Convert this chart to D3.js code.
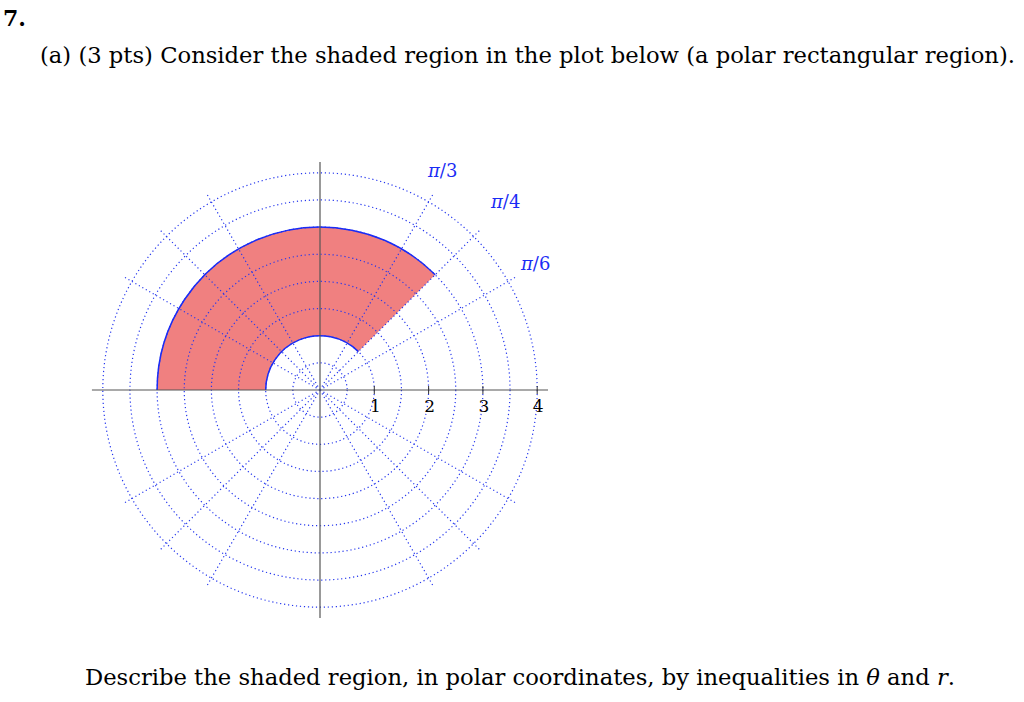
<!DOCTYPE html>
<html><head><meta charset="utf-8">
<script src="https://cdn.jsdelivr.net/npm/d3@7"></script>
<style>body{margin:0;background:#fff}svg{display:block}text{font-family:"DejaVu Serif","Liberation Serif",serif}</style>
</head><body><svg width="1024" height="702"></svg>
<script>
const circleRadii=[0.5,1,1.5,2,2.5,3,3.5,4];
const rayAngles=[Math.PI/6,Math.PI/4,Math.PI/3];
const angleLabels=["6","4","3"];
const xTicks=[1,2,3,4];
const region={r0:1,r1:3,t0:Math.PI/4,t1:Math.PI};
const svg=d3.select("svg");
const cx=320,cy=390;
const s=d3.scaleLinear().domain([0,1]).range([0,54.3]);
const g=svg.append("g").attr("transform",`translate(${cx},${cy})`);
const P=(r,t)=>[s(r)*Math.cos(t),-s(r)*Math.sin(t)];
const blue="#2436ee";
const arc=d3.arc().innerRadius(s(region.r0)).outerRadius(s(region.r1))
 .startAngle(Math.PI/2-region.t0).endAngle(Math.PI/2-region.t1);
g.append("path").attr("d",arc()).attr("fill","#f08080");
g.selectAll("circle.grid").data(circleRadii).join("circle").attr("r",d=>s(d))
 .attr("fill","none").attr("stroke",blue).attr("stroke-width",1.2).attr("stroke-dasharray","1.2 2.8");
const allRays=[];rayAngles.forEach(a=>{[a,Math.PI-a,Math.PI+a,-a].forEach(t=>allRays.push(t));});
g.selectAll("line.ray").data(allRays).join("line")
 .attr("x1",0).attr("y1",0).attr("x2",d=>P(4.2,d)[0]).attr("y2",d=>P(4.2,d)[1])
 .attr("stroke",blue).attr("stroke-width",1.2).attr("stroke-dasharray","1.2 2.8");
[region.r0,region.r1].forEach(r=>{
 const a=d3.arc().innerRadius(s(r)).outerRadius(s(r)).startAngle(Math.PI/2-region.t0).endAngle(Math.PI/2-region.t1);
 g.append("path").attr("d",a()).attr("fill","none").attr("stroke","#1a2cf5").attr("stroke-width",1.5);
});
g.append("line").attr("x1",s(-4.2)).attr("x2",s(4.2)).attr("y1",0).attr("y2",0).attr("stroke","#555").attr("stroke-width",1.2);
g.append("line").attr("y1",s(-4.2)).attr("y2",s(4.2)).attr("x1",0).attr("x2",0).attr("stroke","#555").attr("stroke-width",1.2);
g.selectAll("line.tick").data(xTicks).join("line").attr("x1",d=>s(d)).attr("x2",d=>s(d)).attr("y1",-4).attr("y2",4).attr("stroke","#333");
g.selectAll("text.tick").data(xTicks).join("text").attr("x",d=>s(d)+1).attr("y",22).attr("text-anchor","middle")
 .attr("font-size",17).text(d=>d);
const labPos=[[201,-120],[171,-182],[108,-213]];
g.selectAll("text.ang").data(angleLabels).join("text").attr("x",(d,i)=>labPos[i][0]).attr("y",(d,i)=>labPos[i][1])
 .attr("font-size",18).attr("fill","#1a2cf5")
 .html(d=>`<tspan font-style="italic">π</tspan>/${d}`);
svg.append("text").attr("x",3).attr("y",26).attr("font-size",22).attr("font-weight","bold").text("7.");
svg.append("text").attr("x",40).attr("y",63).attr("font-size",22).attr("textLength",975).attr("lengthAdjust","spacingAndGlyphs")
 .text("(a) (3 pts) Consider the shaded region in the plot below (a polar rectangular region).");
svg.append("text").attr("x",85).attr("y",685).attr("font-size",22).attr("textLength",870).attr("lengthAdjust","spacingAndGlyphs")
 .html('Describe the shaded region, in polar coordinates, by inequalities in <tspan font-style="italic">θ</tspan> and <tspan font-style="italic">r</tspan>.');
</script></body></html>
